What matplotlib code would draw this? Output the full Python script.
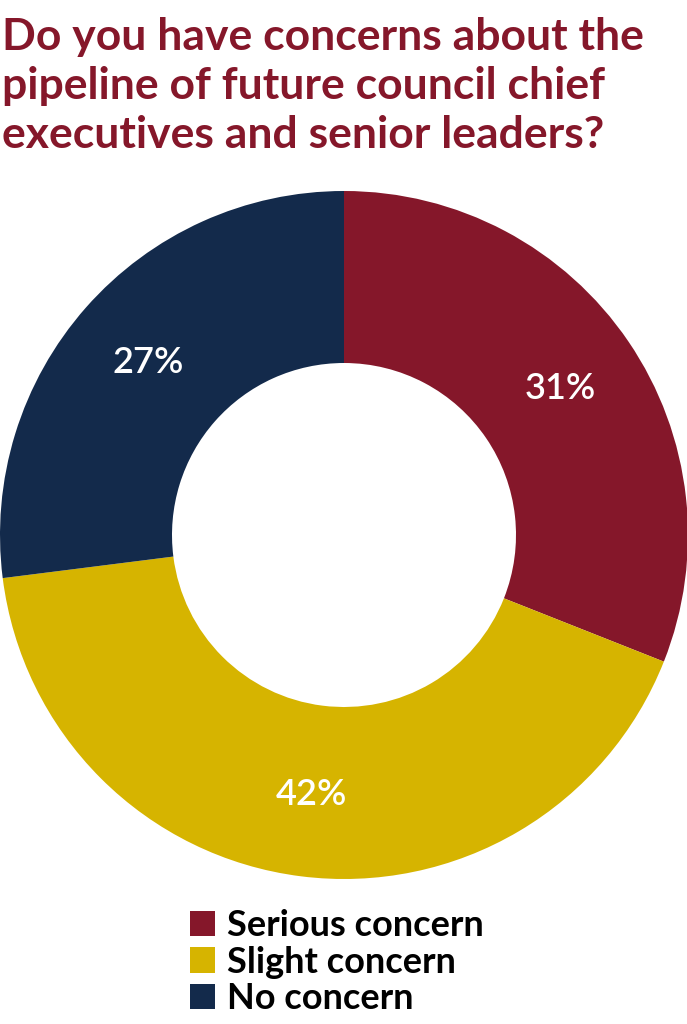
import matplotlib.pyplot as plt
from matplotlib.patches import Patch

title = "Do you have concerns about the\npipeline of future council chief\nexecutives and senior leaders?"
categories = ["Serious concern", "Slight concern", "No concern"]
values = [31, 42, 27]
colors = ["#85172A", "#D6B400", "#132A4B"]

plt.rcParams['font.family'] = ['Lato', 'DejaVu Sans']

fig = plt.figure(figsize=(6.87, 10.24), dpi=100)

# donut
ax = fig.add_axes([0.0, 1 - 879 / 1024, 688 / 687, 688 / 1024])
wedges, texts, autotexts = ax.pie(
    values, colors=colors, startangle=90, counterclock=False,
    autopct='%d%%', pctdistance=0.76,
    wedgeprops=dict(width=0.5, edgecolor='none'),
    textprops=dict(color='white', fontsize=26, fontweight='semibold'),
)
ax.set_xlim(-1, 1)
ax.set_ylim(-1, 1)
ax.set_aspect('equal')
ax.axis('off')

fig.text(0.003, 1 - 17 / 1024, title, ha='left', va='top',
         fontsize=32, fontweight='bold', color="#85172A", linespacing=1.28)

handles = [Patch(facecolor=c, edgecolor='none') for c in colors]
fig.legend(handles, categories, loc='upper left',
           bbox_to_anchor=(190 / 687, 1 - 909 / 1024),
           frameon=False, prop=dict(weight='bold', size=26),
           handlelength=0.7, handleheight=0.7, handletextpad=0.33,
           labelspacing=0.1, borderpad=0, borderaxespad=0)

fig.savefig("out.png", dpi=100)
